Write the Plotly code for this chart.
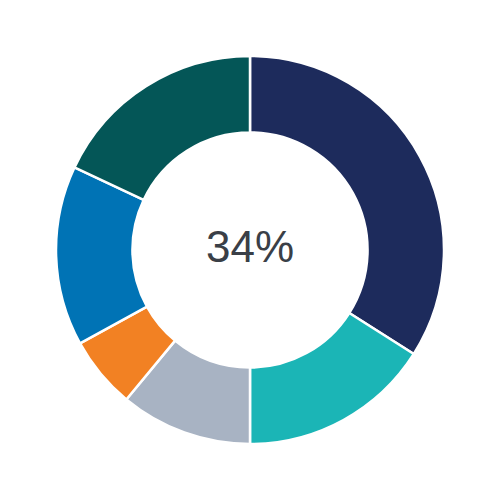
import plotly.graph_objects as go

labels = ["A", "B", "C", "D", "E", "F"]
values = [34, 16, 11, 6, 15, 18]
colors = ["#1D2B5C", "#1BB5B6", "#A8B3C3", "#F28123", "#0073B5", "#045657"]
center_text = "34%"

fig = go.Figure(go.Pie(
    labels=labels,
    values=values,
    hole=0.606,
    sort=False,
    direction="clockwise",
    rotation=0,
    marker=dict(colors=colors, line=dict(color="white", width=2.5)),
    textinfo="none",
    hoverinfo="label+percent",
    showlegend=False,
))

# page body has an 8px default margin, so offset the plot area accordingly
fig.update_layout(
    width=500, height=500,
    margin=dict(l=48, r=64, t=48, b=64),
    paper_bgcolor="white",
    plot_bgcolor="white",
    annotations=[dict(
        text=center_text, x=0.5, y=0.5, xref="paper", yref="paper",
        showarrow=False, yshift=4,
        font=dict(family="Liberation Sans, Arial, sans-serif", size=44, color="#3A3F47"),
    )],
)

fig.write_html("out.html")
